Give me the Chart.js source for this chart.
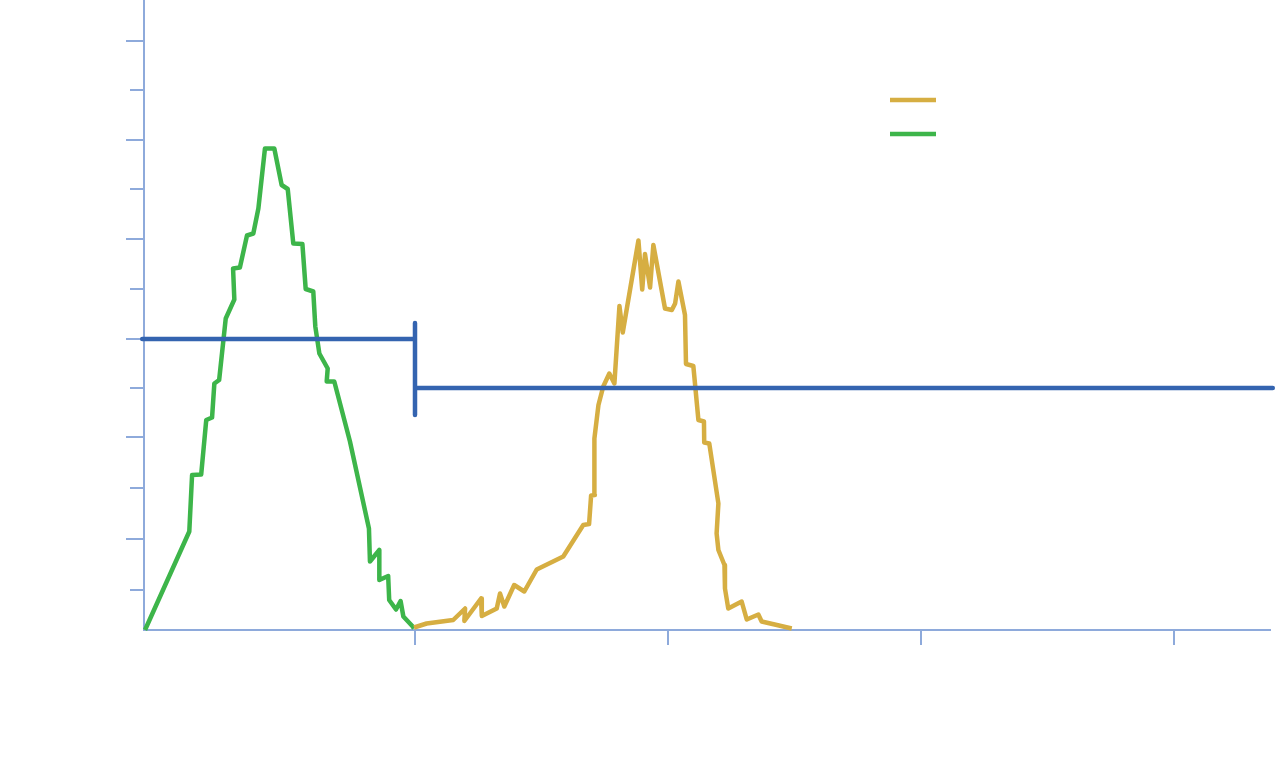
<!DOCTYPE html>
<html>
<head>
<meta charset="utf-8">
<script src="https://cdn.jsdelivr.net/npm/chart.js@4"></script>
<style>
  html, body { margin: 0; padding: 0; background: #fff; }
  #wrap { width: 1280px; height: 768px; }
</style>
</head>
<body>
<div id="wrap"><canvas id="histChart"></canvas></div>
<script>
// x in channel units (100 per decade), y in counts
const greenX = [-6.7, 10.8, 11.9, 15.5, 17.5, 19.8, 20.7, 22.6, 25.2, 28.6, 28.1, 30.8, 33.6, 36.1, 38.1, 40.7, 44.4, 47.3, 49.7, 51.9, 55.5, 56.8, 59.8, 60.6, 62.2, 65.5, 65.1, 68.1, 74.3, 81.8, 82.2, 85.9, 85.9, 89.4, 89.8, 92.5, 94.3, 95.4, 99.1, 99.6];
const greenY = [0, 19.7, 31.0, 31.1, 42.0, 42.5, 49.3, 50.0, 62.3, 66.1, 72.3, 72.5, 78.9, 79.3, 84.3, 96.3, 96.3, 89.0, 88.2, 77.3, 77.2, 68.2, 67.7, 60.7, 55.3, 52.3, 49.7, 49.7, 37.7, 20.3, 13.7, 16.0, 10.0, 10.8, 6.0, 4.1, 5.8, 2.7, 0.7, 0.3];

const yellowX = [99.6, 104.6, 115.1, 119.8, 119.5, 126.1, 126.4, 132.3, 133.6, 135.3, 139.2, 143.2, 148.1, 158.6, 166.5, 168.8, 169.6, 171.1, 170.9, 172.5, 174.4, 176.8, 178.8, 180.8, 182.1, 188.3, 189.8, 190.9, 192.9, 194.2, 198.8, 201.5, 202.8, 204.1, 206.7, 207.1, 210.0, 212.0, 214.2, 214.3, 216.3, 219.9, 219.2, 219.9, 222.3, 222.5, 223.8, 229.1, 231.1, 235.7, 237.0, 243.0, 248.9];
const yellowY = [0.5, 1.3, 2.0, 4.3, 1.8, 6.3, 2.8, 4.3, 7.3, 4.7, 9.0, 7.7, 12.1, 14.7, 21.0, 21.2, 26.9, 27.0, 38.3, 45.0, 48.7, 51.3, 49.3, 64.8, 59.5, 77.9, 68.1, 75.2, 68.5, 77.0, 64.3, 64.0, 65.3, 69.7, 63.0, 53.2, 52.8, 42.0, 41.7, 37.5, 37.3, 25.3, 19.3, 16.0, 13.0, 8.3, 4.3, 5.7, 2.1, 3.1, 1.7, 1.0, 0.3];

// gate marker: left bar, divider, right bar (null = break)
const gateX = [-7.8, 100, 100, 100, 100, 100, 100, 439];
const gateY = [58.2, 58.2, null, 61.4, 43.0, null, 48.4, 48.4];

const xTicks = [100, 200, 300, 400];
const yMajorTicks = [18.2, 38.6, 58.2, 78.2, 98, 117.8];
const yMinorTicks = [8, 28.4, 48.4, 68.2, 88.2, 108];

const axisColor = '#8eaadb';

function toPoints(xs, ys) {
    return xs.map((x, i) => ({ x: x, y: ys[i] }));
}

// short in-between ticks on the y axis
const minorTicks = {
    id: 'minorTicks',
    beforeDatasetsDraw(chart) {
        const y = chart.scales.y;
        const ctx = chart.ctx;
        ctx.save();
        ctx.strokeStyle = axisColor;
        ctx.lineWidth = 2;
        yMinorTicks.forEach(v => {
            const py = Math.round(y.getPixelForValue(v));
            ctx.beginPath();
            ctx.moveTo(y.right - 14, py);
            ctx.lineTo(y.right, py);
            ctx.stroke();
        });
        ctx.restore();
    }
};

// move the legend into the upper right of the plot
const legendSpot = {
    id: 'legendSpot',
    afterLayout(chart) {
        chart.legend.left = 868;
        chart.legend.top = 72;
    }
};

new Chart(document.getElementById('histChart'), {
    type: 'line',
    data: {
        datasets: [
            {
                label: '',
                data: toPoints(gateX, gateY),
                borderColor: '#3464b0',
                backgroundColor: '#3464b0',
                borderWidth: 4.5,
                borderCapStyle: 'round',
                spanGaps: false,
                clip: false
            },
            {
                label: '',
                data: toPoints(yellowX, yellowY),
                borderColor: '#d6ae42',
                backgroundColor: '#d6ae42',
                borderWidth: 4.5,
                borderJoinStyle: 'round',
                clip: false
            },
            {
                label: '',
                data: toPoints(greenX, greenY),
                borderColor: '#3db54a',
                backgroundColor: '#3db54a',
                borderWidth: 4.5,
                borderJoinStyle: 'round',
                clip: false
            }
        ]
    },
    options: {
        responsive: true,
        maintainAspectRatio: false,
        animation: false,
        layout: {
            autoPadding: false,
            padding: { left: 126, right: 10, top: 0, bottom: 123 }
        },
        elements: {
            point: { radius: 0 },
            line: { tension: 0, fill: false }
        },
        plugins: {
            tooltip: { enabled: false },
            legend: {
                position: 'chartArea',
                align: 'start',
                labels: {
                    boxWidth: 46,
                    boxHeight: 4.5,
                    padding: 22,
                    font: { size: 12 },
                    filter: item => item.datasetIndex !== 0,
                    generateLabels(chart) {
                        return Chart.defaults.plugins.legend.labels.generateLabels(chart)
                            .map(it => Object.assign(it, { lineWidth: 0 }));
                    }
                }
            }
        },
        scales: {
            x: {
                type: 'linear',
                min: -7.1,
                max: 437.9,
                afterBuildTicks: s => { s.ticks = xTicks.map(v => ({ value: v })); },
                ticks: { display: false },
                grid: { drawOnChartArea: false, drawTicks: true, tickLength: 15, color: axisColor, lineWidth: 2 },
                border: { color: axisColor, width: 2 }
            },
            y: {
                type: 'linear',
                min: 0,
                max: 126,
                afterBuildTicks: s => { s.ticks = yMajorTicks.map(v => ({ value: v })); },
                ticks: { display: false },
                grid: { drawOnChartArea: false, drawTicks: true, tickLength: 18, color: axisColor, lineWidth: 2 },
                border: { color: axisColor, width: 2 }
            }
        }
    },
    plugins: [minorTicks, legendSpot]
});
</script>
</body>
</html>
